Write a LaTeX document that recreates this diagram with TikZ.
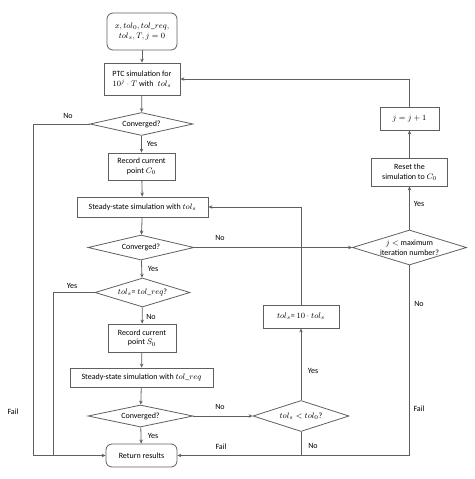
\documentclass[tikz,border=0pt]{standalone}
\usepackage{fontspec}
\setmainfont{Carlito}
\usetikzlibrary{shapes.geometric,arrows.meta}
\definecolor{linecol}{RGB}{95,95,95}
\begin{document}
\begin{tikzpicture}[x=1pt,y=-1pt,
  font=\fontsize{8}{9.6}\selectfont,
  base/.style={draw=linecol, line width=0.8pt, inner sep=1pt, align=center, text=black},
  box/.style={base, rectangle},
  rbox/.style={base, rectangle, rounded corners=6pt},
  dia/.style={base, diamond, inner sep=0pt, aspect=3.5},
  lab/.style={inner sep=0pt, text=black},
  line/.style={draw=linecol, line width=0.8pt},
  arr/.style={line, -{Stealth[length=4pt,width=3.5pt]}}]
\useasboundingbox (0,0) rectangle (474,479);
% nodes
\node[rbox, minimum width=70, minimum height=37] (start) at (142,31.5) {$x, tol_0, tol\_req,$\\ $tol_s, T, j=0$};
\node[box, minimum width=76, minimum height=32] (ptc) at (142,79) {PTC simulation for\\ $10^j\cdot T$ with $\;tol_s$};
\node[dia, aspect=4.5, minimum width=103, minimum height=23] (c1) at (141.5,124) {Converged?};
\node[box, minimum width=67, minimum height=27] (rc) at (141.5,166.5) {Record current\\ point $C_0$};
\node[box, minimum width=131, minimum height=20] (ss) at (142.5,207) {Steady-state simulation with $tol_s$};
\node[dia, aspect=4.2, minimum width=106, minimum height=25] (c2) at (141,247.5) {Converged?};
\node[dia, aspect=3.3, minimum width=95, minimum height=29] (eq) at (142.5,292.5) {$tol_s$= $tol\_req$?};
\node[box, minimum width=68, minimum height=28] (rs) at (142,338) {Record current\\ point $S_0$};
\node[box, minimum width=143, minimum height=19] (sr) at (141.5,377.5) {Steady-state simulation with $tol\_req$};
\node[dia, aspect=4.7, minimum width=105, minimum height=22] (c3) at (140.5,416) {Converged?};
\node[rbox, minimum width=71, minimum height=23] (ret) at (141.5,455.5) {Return results};
\node[dia, aspect=3.1, minimum width=96, minimum height=31] (lt) at (301,416) {$tol_s < tol_0$?};
\node[box, minimum width=76, minimum height=23] (mul) at (301,316.5) {$tol_s$= $10\cdot tol_s$};
\node[dia, aspect=3.2, minimum width=114, minimum height=35] (jmax) at (409.5,247.5) {};
\node[lab, align=center] (jmaxt) at (jmax) {$j <$ maximum\\ iteration number?};
\node[box, minimum width=76, minimum height=28] (reset) at (409.5,172) {Reset the\\ simulation to $C_0$};
\node[box, minimum width=59, minimum height=23] (jinc) at (409.5,118.5) {$j=j+1$};
% helper coordinates
\coordinate (L1) at (33,455.5);
\coordinate (L2) at (53,455.5);
% main column
\draw[arr] (start) -- (ptc);
\draw[arr] (ptc) -- (c1);
\draw[arr] (c1) -- (rc);
\draw[arr] (rc) -- (ss);
\draw[arr] (ss) -- (c2);
\draw[arr] (c2) -- (eq);
\draw[arr] (eq) -- (rs);
\draw[arr] (rs) -- (sr);
\draw[arr] (sr) -- (c3);
\draw[arr] (c3) -- (ret);
% left loops
\draw[arr] (c1.west) -| (L1) -- (ret.west);
\draw[line] (eq.west) -| (L2);
% right side
\draw[arr] (c3.east) -- (lt.west);
\draw[arr] (lt.north) -- (mul.south);
\draw[arr] (mul.north) |- (ss.east);
\draw[line] (lt.south) -- (lt.south |- ret.east);
\draw[arr] (c2.east) -- (jmax.west);
\draw[arr] (jmax.south) |- (ret.east);
\draw[arr] (jmax.north) -- (reset.south);
\draw[arr] (reset.north) -- (jinc.south);
\draw[arr] (jinc.north) |- (ptc.east);
% labels
\node[lab] (n1) at (68,116) {No};
\node[lab] (y1) at (152,144) {Yes};
\node[lab] (f1) at (13,412) {Fail};
\node[lab] (n2) at (220,238) {No};
\node[lab] (y2) at (153,269) {Yes};
\node[lab] (y3) at (72,286) {Yes};
\node[lab] (n3) at (151,317) {No};
\node[lab] (y4) at (153,436) {Yes};
\node[lab] (n4) at (220,407) {No};
\node[lab] (f2) at (221,447) {Fail};
\node[lab] (y5) at (313,371) {Yes};
\node[lab] (n5) at (313,446) {No};
\node[lab] (y6) at (419,204) {Yes};
\node[lab] (n6) at (419,304) {No};
\node[lab] (f3) at (419,409) {Fail};
\end{tikzpicture}
\end{document}
